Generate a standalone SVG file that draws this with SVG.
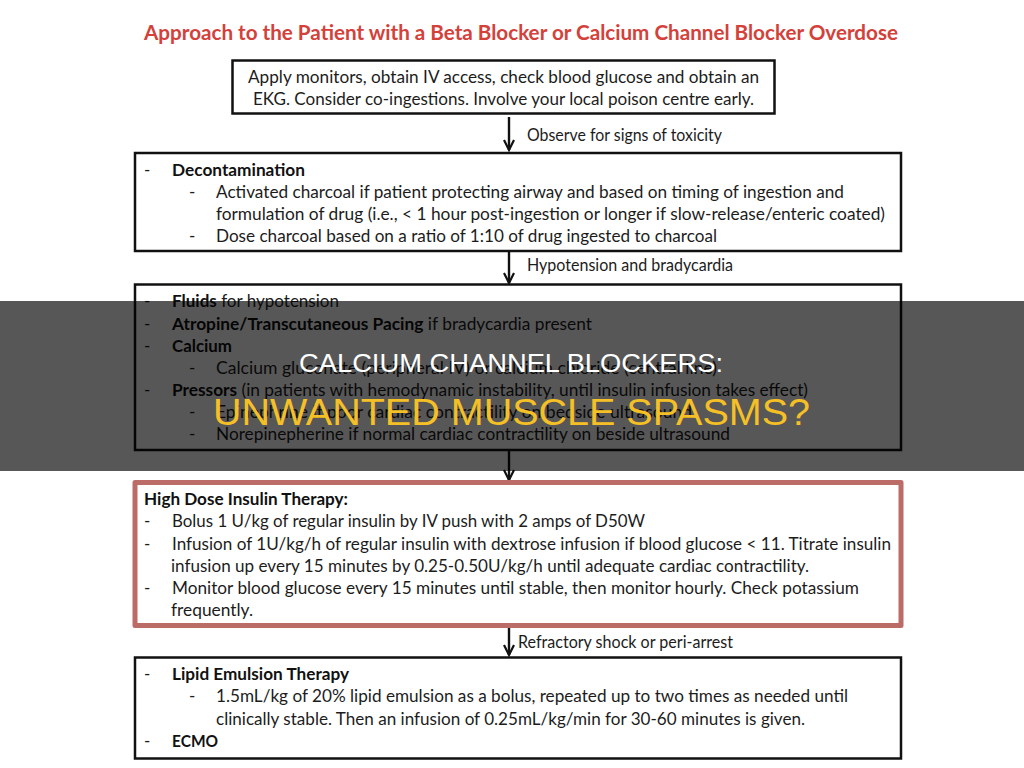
<svg xmlns="http://www.w3.org/2000/svg" width="1024" height="768" viewBox="0 0 1024 768">
<style>
text{font-family:"Lato","Carlito","Liberation Sans",sans-serif;font-size:17px;fill:#1c1c1c}
.b,tspan.b{font-weight:700;fill:#111}
.t{font-size:20.5px;font-weight:700;fill:#d4403a}
.box{fill:#fff;stroke:#111;stroke-width:2.5}
.red{fill:#fff;stroke:#bc6c67;stroke-width:5;stroke-linejoin:round}
.c{fill:none;stroke:#111;stroke-width:2.4}
.o{font-family:"Liberation Sans",Arial,sans-serif}
</style>
<defs><marker id="a" markerUnits="userSpaceOnUse" markerWidth="14" markerHeight="12" refX="11" refY="6" orient="auto"><path d="M1 1 L11 6 L1 11" fill="none" stroke="#111" stroke-width="2.2"/></marker></defs>
<rect width="1024" height="768" fill="#fff"/>
<text class="t" x="144" y="40" textLength="754" lengthAdjust="spacingAndGlyphs">Approach to the Patient with a Beta Blocker or Calcium Channel Blocker Overdose</text>
<g id="connectors">
<path class="c" marker-end="url(#a)" d="M509 117V150"/>
<path class="c" marker-end="url(#a)" d="M509 252V283"/>
<path class="c" marker-end="url(#a)" d="M509 451V480"/>
<path class="c" marker-end="url(#a)" d="M509 626V655"/>
<text x="527" y="141" textLength="195" lengthAdjust="spacingAndGlyphs">Observe for signs of toxicity</text>
<text x="527" y="271" textLength="206" lengthAdjust="spacingAndGlyphs">Hypotension and bradycardia</text>
<text x="518" y="648" textLength="215" lengthAdjust="spacingAndGlyphs">Refractory shock or peri-arrest</text>
</g>
<g id="n1">
<rect class="box" x="232.5" y="60.5" width="542" height="53"/>
<text x="248" y="83" textLength="511" lengthAdjust="spacingAndGlyphs">Apply monitors, obtain IV access, check blood glucose and obtain an</text>
<text x="253" y="105" textLength="501" lengthAdjust="spacingAndGlyphs">EKG. Consider co-ingestions. Involve your local poison centre early.</text>
</g>
<g id="n2">
<rect class="box" x="135" y="153" width="766" height="98"/>
<text x="144" y="176">-</text><text class="b" x="172" y="176" textLength="133" lengthAdjust="spacingAndGlyphs">Decontamination</text>
<text x="189" y="198">-</text><text x="216" y="198" textLength="628" lengthAdjust="spacingAndGlyphs">Activated charcoal if patient protecting airway and based on timing of ingestion and</text>
<text x="216" y="220" textLength="669" lengthAdjust="spacingAndGlyphs">formulation of drug (i.e., &lt; 1 hour post-ingestion or longer if slow-release/enteric coated)</text>
<text x="189" y="242">-</text><text x="216" y="242" textLength="501" lengthAdjust="spacingAndGlyphs">Dose charcoal based on a ratio of 1:10 of drug ingested to charcoal</text>
</g>
<g id="n3">
<rect class="box" x="135" y="284.5" width="766" height="165.5"/>
<text x="144" y="307">-</text><text x="172" y="307" textLength="167" lengthAdjust="spacingAndGlyphs"><tspan class="b">Fluids</tspan> for hypotension</text>
<text x="144" y="330">-</text><text x="172" y="330" textLength="420" lengthAdjust="spacingAndGlyphs"><tspan class="b">Atropine/Transcutaneous Pacing</tspan> if bradycardia present</text>
<text x="144" y="352">-</text><text class="b" x="172" y="352" textLength="60" lengthAdjust="spacingAndGlyphs">Calcium</text>
<text x="189" y="374">-</text><text x="216" y="374" textLength="501" lengthAdjust="spacingAndGlyphs">Calcium gluconate (peripheral IV) or calcium chloride (central line)</text>
<text x="144" y="396">-</text><text x="172" y="396" textLength="636" lengthAdjust="spacingAndGlyphs"><tspan class="b">Pressors</tspan> (in patients with hemodynamic instability, until insulin infusion takes effect)</text>
<text x="189" y="418">-</text><text x="216" y="418" textLength="476" lengthAdjust="spacingAndGlyphs">Epinephrine if poor cardiac contractility on bedside ultrasound</text>
<text x="189" y="440">-</text><text x="216" y="440" textLength="514" lengthAdjust="spacingAndGlyphs">Norepinepherine if normal cardiac contractility on beside ultrasound</text>
</g>
<g id="n4">
<rect class="red" x="135" y="482.5" width="766" height="143"/>
<text class="b" x="144" y="505" textLength="204" lengthAdjust="spacingAndGlyphs">High Dose Insulin Therapy:</text>
<text x="144" y="527">-</text><text x="172" y="527" textLength="473" lengthAdjust="spacingAndGlyphs">Bolus 1 U/kg of regular insulin by IV push with 2 amps of D50W</text>
<text x="144" y="550">-</text><text x="172" y="550" textLength="719" lengthAdjust="spacingAndGlyphs">Infusion of 1U/kg/h of regular insulin with dextrose infusion if blood glucose &lt; 11. Titrate insulin</text>
<text x="171" y="572" textLength="638" lengthAdjust="spacingAndGlyphs">infusion up every 15 minutes by 0.25-0.50U/kg/h until adequate cardiac contractility.</text>
<text x="144" y="594">-</text><text x="172" y="594" textLength="687" lengthAdjust="spacingAndGlyphs">Monitor blood glucose every 15 minutes until stable, then monitor hourly. Check potassium</text>
<text x="171" y="616" textLength="82" lengthAdjust="spacingAndGlyphs">frequently.</text>
</g>
<g id="n5">
<rect class="box" x="135" y="657.5" width="766" height="101"/>
<text x="144" y="680">-</text><text class="b" x="172" y="680" textLength="177" lengthAdjust="spacingAndGlyphs">Lipid Emulsion Therapy</text>
<text x="189" y="702">-</text><text x="216" y="702" textLength="632" lengthAdjust="spacingAndGlyphs">1.5mL/kg of 20% lipid emulsion as a bolus, repeated up to two times as needed until</text>
<text x="216" y="725" textLength="589" lengthAdjust="spacingAndGlyphs">clinically stable. Then an infusion of 0.25mL/kg/min for 30-60 minutes is given.</text>
<text x="144" y="747">-</text><text class="b" x="172" y="747" textLength="46" lengthAdjust="spacingAndGlyphs">ECMO</text>
</g>
<g id="banner">
<rect x="0" y="301" width="1024" height="170" fill="#000" fill-opacity=".66"/>
<text class="o" x="299" y="372" font-size="26" style="font-size:26px;fill:#fff" textLength="424" lengthAdjust="spacingAndGlyphs">CALCIUM CHANNEL BLOCKERS:</text>
<text class="o" x="213" y="425" style="font-size:36px;fill:#f5c025" textLength="597" lengthAdjust="spacingAndGlyphs">UNWANTED MUSCLE SPASMS?</text>
</g>
</svg>
